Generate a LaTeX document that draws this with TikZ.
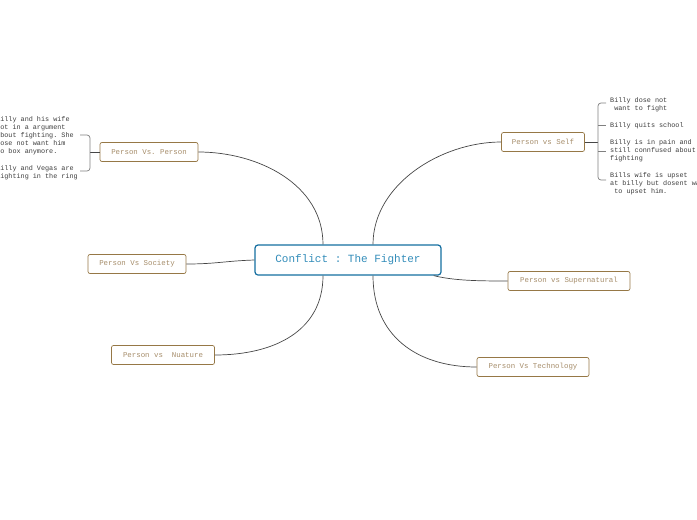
\documentclass[tikz,border=0pt]{standalone}
\usepackage{fontspec}
\setmonofont{Liberation Mono}
\definecolor{rootblue}{RGB}{20,110,160}
\definecolor{roottext}{RGB}{50,140,185}
\definecolor{topicbrown}{RGB}{150,120,70}
\definecolor{topictext}{RGB}{165,140,105}
\definecolor{linkgray}{RGB}{70,70,70}
\definecolor{leafgray}{RGB}{60,60,60}
\tikzset{rootnode/.style={draw=rootblue, line width=1.2pt, rounded corners=3pt, text=roottext, font=\ttfamily\fontsize{11}{13}\selectfont, minimum width=186pt, minimum height=30pt},
topicnode/.style={draw=topicbrown, line width=0.7pt, rounded corners=2pt, text=topictext, font=\ttfamily\fontsize{7.4}{8}\selectfont, minimum height=19pt, inner xsep=6pt},
leafnode/.style={text=leafgray, font=\ttfamily\fontsize{6.8}{8}\selectfont, align=left, inner sep=0pt, anchor=north west}}
\begin{document}
\begin{tikzpicture}[x=1pt, y=-1pt,
        link/.style={draw=linkgray, line width=0.7pt},
        brace/.style={draw=gray, line width=0.7pt, rounded corners=3pt}
    ]
        \useasboundingbox (0,0) rectangle (697,520);
        % Root
        \node[rootnode] (root) at (348,260) {Conflict : The Fighter};
        % Topics
        \node[topicnode, minimum width=98pt] (pvp) at (149,152) {Person Vs. Person};
        \node[topicnode, minimum width=83pt] (pvself) at (543,142) {Person vs Self};
        \node[topicnode, minimum width=98pt] (pvsoc) at (137,264) {Person Vs Society};
        \node[topicnode, minimum width=122pt] (pvsup) at (569,281) {Person vs Supernatural};
        \node[topicnode, minimum width=103pt] (pvnat) at (163,355) {Person vs\ \ Nuature};
        \node[topicnode, minimum width=112pt] (pvtech) at (533,367) {Person Vs Technology};
        % Links
        \draw[link] ([xshift=-25pt]root.north) .. controls +(0,-60) and +(60,0) .. (pvp.east);
        \draw[link] ([xshift=25pt]root.north) .. controls +(0,-60) and +(-60,0) .. (pvself.west);
        \draw[link] (root.west) .. controls +(-30,1) and +(30,0) .. (pvsoc.east);
        \draw[link] ([xshift=-8pt]root.south east) .. controls +(20,5) and +(-30,0) .. (pvsup.west);
        \draw[link] ([xshift=-25pt]root.south) .. controls +(0,55) and +(60,0) .. (pvnat.east);
        \draw[link] ([xshift=25pt]root.south) .. controls +(0,60) and +(-60,0) .. (pvtech.west);
        % Leaves left
        \node[leafnode] (wife) at (-4,116) {Billy and his wife\\got in a argument\\about fighting. She\\dose not want him\\to box anymore.};
        \node[leafnode] (vegas) at (-4,165) {Billy and Vegas are\\fighting in the ring};
        \coordinate (lb) at (90,152);
        \draw[link] (pvp.west) -- (lb);
        \draw[brace] (80,135) -- (90,135) -- (90,171) -- (80,171);
        % Leaves right
        \node[leafnode] (fight) at (610,97) {Billy dose not\\\ want to fight};
        \node[leafnode] (school) at (610,122) {Billy quits school};
        \node[leafnode] (pain) at (610,139) {Billy is in pain and\\still connfused about\\fighting};
        \node[leafnode] (upset) at (610,172) {Bills wife is upset\\at billy but dosent want\\\ to upset him.};
        \coordinate (rb) at (598,142);
        \draw[link] (pvself.east) -- (rb);
        \draw[brace] (606,103) -- (598,103) -- (598,180) -- (606,180);
        \draw[brace] (598,125) -- (606,125);
        \draw[brace] (598,151) -- (606,151);
\end{tikzpicture}
\end{document}
